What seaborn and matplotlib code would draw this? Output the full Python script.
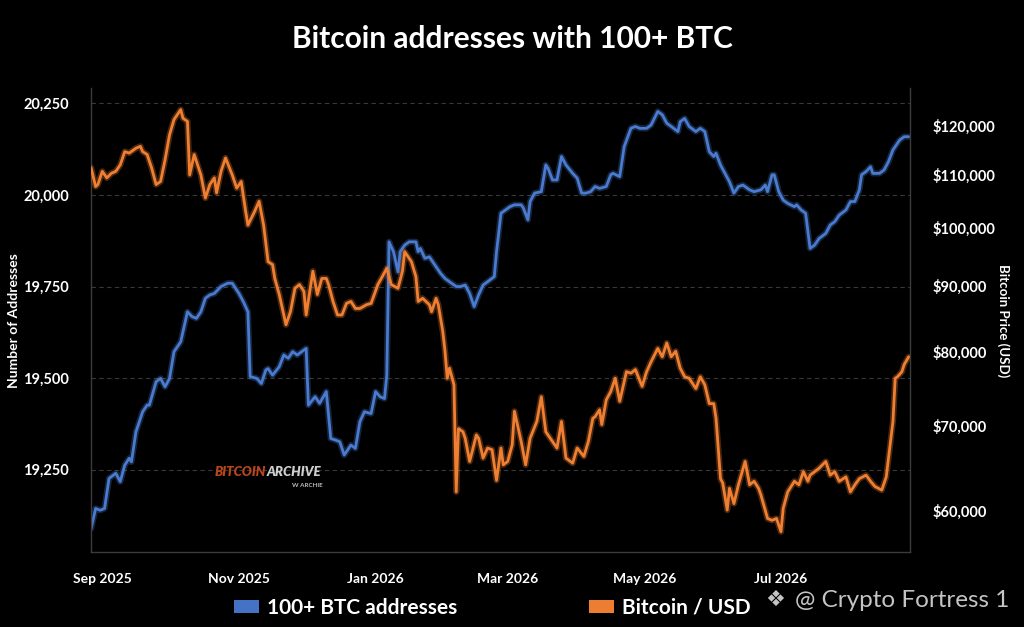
import pandas as pd
import matplotlib.pyplot as plt
import matplotlib.dates as mdates
import matplotlib.patheffects as pe
from matplotlib.patches import Patch
import seaborn as sns

# 100+ BTC addresses (left axis)
addr_dates = [
    "2025-08-27", "2025-08-29", "2025-08-31", "2025-09-02", "2025-09-04", "2025-09-07", "2025-09-09", "2025-09-11", "2025-09-13", "2025-09-14",
    "2025-09-16", "2025-09-19", "2025-09-21", "2025-09-22", "2025-09-25", "2025-09-27", "2025-09-29", "2025-10-01", "2025-10-03", "2025-10-04",
    "2025-10-06", "2025-10-08", "2025-10-09", "2025-10-11", "2025-10-13", "2025-10-15", "2025-10-17", "2025-10-19", "2025-10-21", "2025-10-24",
    "2025-10-27", "2025-10-29", "2025-11-01", "2025-11-03", "2025-11-05", "2025-11-06", "2025-11-09", "2025-11-11", "2025-11-13", "2025-11-14",
    "2025-11-16", "2025-11-19", "2025-11-21", "2025-11-23", "2025-11-25", "2025-11-27", "2025-11-29", "2025-12-01", "2025-12-02", "2025-12-05",
    "2025-12-07", "2025-12-10", "2025-12-12", "2025-12-14", "2025-12-16", "2025-12-18", "2025-12-21", "2025-12-23", "2025-12-25", "2025-12-27",
    "2025-12-30", "2026-01-01", "2026-01-03", "2026-01-05", "2026-01-06", "2026-01-07", "2026-01-09", "2026-01-11", "2026-01-12", "2026-01-14",
    "2026-01-16", "2026-01-19", "2026-01-20", "2026-01-21", "2026-01-23", "2026-01-25", "2026-01-28", "2026-01-30", "2026-02-01", "2026-02-03",
    "2026-02-06", "2026-02-08", "2026-02-10", "2026-02-12", "2026-02-14", "2026-02-16", "2026-02-18", "2026-02-20", "2026-02-23", "2026-02-24",
    "2026-02-26", "2026-02-28", "2026-03-02", "2026-03-04", "2026-03-07", "2026-03-08", "2026-03-10", "2026-03-11", "2026-03-13", "2026-03-16",
    "2026-03-18", "2026-03-19", "2026-03-21", "2026-03-23", "2026-03-25", "2026-03-27", "2026-03-30", "2026-04-01", "2026-04-03", "2026-04-05",
    "2026-04-07", "2026-04-09", "2026-04-11", "2026-04-14", "2026-04-16", "2026-04-17", "2026-04-20", "2026-04-22", "2026-04-25", "2026-04-27",
    "2026-04-29", "2026-05-02", "2026-05-04", "2026-05-07", "2026-05-09", "2026-05-11", "2026-05-13", "2026-05-16", "2026-05-17", "2026-05-19",
    "2026-05-21", "2026-05-24", "2026-05-26", "2026-05-28", "2026-05-30", "2026-06-01", "2026-06-02", "2026-06-04", "2026-06-06", "2026-06-08",
    "2026-06-10", "2026-06-12", "2026-06-14", "2026-06-17", "2026-06-19", "2026-06-22", "2026-06-24", "2026-06-25", "2026-06-27", "2026-06-28",
    "2026-06-30", "2026-07-02", "2026-07-04", "2026-07-07", "2026-07-08", "2026-07-10", "2026-07-12", "2026-07-14", "2026-07-16", "2026-07-18",
    "2026-07-21", "2026-07-23", "2026-07-25", "2026-07-27", "2026-07-30", "2026-08-01", "2026-08-03", "2026-08-05", "2026-08-06", "2026-08-08",
    "2026-08-10", "2026-08-11", "2026-08-14", "2026-08-16", "2026-08-18", "2026-08-20", "2026-08-23", "2026-08-25", "2026-08-27",
]
addr_values = [
    19089, 19144, 19139, 19144, 19226, 19240, 19217, 19262, 19281, 19271,
    19353, 19408, 19426, 19426, 19490, 19499, 19476, 19499, 19572, 19581,
    19599, 19654, 19681, 19668, 19663, 19681, 19718, 19727, 19731, 19750,
    19759, 19759, 19731, 19708, 19681, 19504, 19499, 19485, 19522, 19526,
    19508, 19531, 19563, 19554, 19572, 19563, 19572, 19581, 19426, 19449,
    19431, 19463, 19335, 19331, 19326, 19290, 19317, 19308, 19381, 19408,
    19403, 19463, 19449, 19444, 19508, 19872, 19845, 19790, 19845, 19863,
    19872, 19872, 19845, 19854, 19827, 19831, 19804, 19786, 19772, 19763,
    19750, 19750, 19754, 19731, 19695, 19727, 19754, 19763, 19777, 19845,
    19950, 19959, 19968, 19973, 19973, 19964, 19932, 19982, 20005, 20009,
    20082, 20073, 20041, 20041, 20105, 20082, 20059, 20046, 20005, 20005,
    20009, 20023, 20018, 20023, 20055, 20059, 20050, 20132, 20182, 20187,
    20182, 20182, 20191, 20228, 20219, 20196, 20187, 20173, 20200, 20209,
    20187, 20173, 20182, 20173, 20118, 20105, 20114, 20082, 20059, 20036,
    20005, 20023, 20027, 20014, 20009, 20014, 20027, 20009, 20055, 20055,
    20009, 19986, 19977, 19968, 19973, 19959, 19950, 19854, 19863, 19881,
    19895, 19918, 19927, 19945, 19959, 19982, 19982, 20014, 20055, 20064,
    20077, 20059, 20059, 20068, 20091, 20123, 20150, 20159, 20159,
]

# Bitcoin price in thousand USD (right axis)
price_dates = [
    "2025-08-27", "2025-08-29", "2025-08-30", "2025-09-01", "2025-09-03", "2025-09-05", "2025-09-07", "2025-09-09", "2025-09-11", "2025-09-13",
    "2025-09-16", "2025-09-18", "2025-09-19", "2025-09-21", "2025-09-23", "2025-09-25", "2025-09-27", "2025-09-29", "2025-10-01", "2025-10-03",
    "2025-10-06", "2025-10-07", "2025-10-09", "2025-10-10", "2025-10-12", "2025-10-15", "2025-10-17", "2025-10-19", "2025-10-21", "2025-10-22",
    "2025-10-24", "2025-10-26", "2025-10-29", "2025-10-31", "2025-11-02", "2025-11-04", "2025-11-05", "2025-11-08", "2025-11-10", "2025-11-12",
    "2025-11-14", "2025-11-16", "2025-11-17", "2025-11-19", "2025-11-22", "2025-11-24", "2025-11-26", "2025-11-28", "2025-11-30", "2025-12-01",
    "2025-12-04", "2025-12-06", "2025-12-08", "2025-12-10", "2025-12-11", "2025-12-13", "2025-12-15", "2025-12-17", "2025-12-19", "2025-12-21",
    "2025-12-23", "2025-12-25", "2025-12-28", "2025-12-30", "2026-01-02", "2026-01-04", "2026-01-06", "2026-01-08", "2026-01-11", "2026-01-13",
    "2026-01-14", "2026-01-17", "2026-01-19", "2026-01-20", "2026-01-22", "2026-01-25", "2026-01-26", "2026-01-28", "2026-01-29", "2026-01-31",
    "2026-02-01", "2026-02-02", "2026-02-03", "2026-02-05", "2026-02-06", "2026-02-07", "2026-02-09", "2026-02-10", "2026-02-12", "2026-02-15",
    "2026-02-16", "2026-02-18", "2026-02-20", "2026-02-22", "2026-02-24", "2026-02-26", "2026-02-27", "2026-03-01", "2026-03-03", "2026-03-04",
    "2026-03-07", "2026-03-09", "2026-03-11", "2026-03-14", "2026-03-16", "2026-03-18", "2026-03-21", "2026-03-23", "2026-03-25", "2026-03-27",
    "2026-03-30", "2026-04-01", "2026-04-04", "2026-04-06", "2026-04-08", "2026-04-09", "2026-04-11", "2026-04-12", "2026-04-14", "2026-04-16",
    "2026-04-18", "2026-04-20", "2026-04-23", "2026-04-25", "2026-04-27", "2026-04-30", "2026-05-02", "2026-05-04", "2026-05-07", "2026-05-09",
    "2026-05-11", "2026-05-13", "2026-05-15", "2026-05-17", "2026-05-19", "2026-05-21", "2026-05-24", "2026-05-26", "2026-05-28", "2026-05-30",
    "2026-06-01", "2026-06-02", "2026-06-04", "2026-06-05", "2026-06-07", "2026-06-08", "2026-06-10", "2026-06-12", "2026-06-15", "2026-06-17",
    "2026-06-19", "2026-06-21", "2026-06-22", "2026-06-25", "2026-06-27", "2026-06-29", "2026-07-01", "2026-07-02", "2026-07-04", "2026-07-07",
    "2026-07-09", "2026-07-11", "2026-07-13", "2026-07-14", "2026-07-16", "2026-07-18", "2026-07-21", "2026-07-23", "2026-07-25", "2026-07-27",
    "2026-07-30", "2026-08-01", "2026-08-03", "2026-08-05", "2026-08-08", "2026-08-10", "2026-08-12", "2026-08-15", "2026-08-17", "2026-08-20",
    "2026-08-21", "2026-08-22", "2026-08-24", "2026-08-25", "2026-08-27",
]
price_k = [
    111.3, 107.6, 108.0, 110.6, 109.3, 110.2, 110.6, 111.9, 114.6, 114.3,
    115.3, 115.7, 114.6, 114.0, 111.3, 108.0, 108.6, 112.9, 118.1, 121.4,
    123.6, 121.7, 121.0, 109.9, 114.0, 109.9, 105.4, 108.0, 109.3, 106.4,
    110.6, 113.3, 109.9, 107.3, 108.6, 102.9, 100.4, 102.9, 104.8, 100.4,
    94.0, 93.5, 91.2, 88.6, 83.9, 85.9, 89.6, 90.2, 89.1, 85.4,
    92.4, 88.6, 91.2, 91.2, 90.2, 87.5, 85.4, 85.4, 87.2, 87.5,
    86.4, 86.4, 87.0, 87.2, 90.2, 91.5, 92.9, 90.2, 89.6, 92.4,
    95.7, 94.0, 91.5, 87.5, 88.0, 87.0, 85.9, 88.0, 87.0, 82.9,
    80.0, 76.2, 77.6, 75.3, 62.1, 69.6, 69.2, 68.4, 65.6, 68.8,
    68.4, 66.0, 67.2, 67.0, 63.4, 67.2, 65.2, 65.6, 67.6, 71.8,
    68.0, 65.2, 68.4, 70.5, 73.7, 69.2, 68.0, 67.2, 70.5, 66.0,
    65.4, 67.2, 66.2, 68.0, 70.9, 71.1, 72.0, 70.1, 73.3, 74.4,
    76.2, 73.1, 77.1, 76.9, 77.4, 75.1, 77.1, 78.5, 80.4, 79.2,
    81.2, 79.2, 80.0, 77.6, 76.4, 76.2, 74.8, 76.4, 75.3, 72.8,
    72.8, 70.9, 63.6, 63.1, 60.1, 62.5, 60.8, 62.9, 65.6, 62.9,
    63.3, 62.5, 61.8, 59.2, 59.0, 59.2, 57.8, 60.3, 62.1, 63.3,
    62.9, 64.4, 63.3, 64.0, 64.4, 64.8, 65.6, 64.0, 64.4, 63.3,
    63.8, 62.1, 62.9, 63.6, 64.0, 63.3, 62.7, 62.3, 63.8, 70.5,
    76.2, 76.4, 77.1, 78.1, 79.2,
]

addr_ticks = [19250, 19500, 19750, 20000, 20250]
price_ticks = [60000, 70000, 80000, 90000, 100000, 110000, 120000]

BLUE = "#4a7bd0"
ORANGE = "#f07f32"
SPINE = "#3c3c3c"

sns.set_theme(style="dark", rc={
    "axes.facecolor": "black",
    "figure.facecolor": "black",
    "savefig.facecolor": "black",
    "text.color": "white",
    "axes.labelcolor": "white",
    "xtick.color": "white",
    "ytick.color": "white",
})
plt.rcParams["font.family"] = ["Lato", "DejaVu Sans"]

addr = pd.DataFrame({"date": pd.to_datetime(addr_dates), "addresses": addr_values})
price = pd.DataFrame({"date": pd.to_datetime(price_dates), "price": [p * 1000 for p in price_k]})

fig = plt.figure(figsize=(10.24, 6.27), dpi=100)
ax = fig.add_axes([0.089, 0.1196, 0.7998, 0.74])
ax2 = ax.twinx()

glow_blue = [pe.Stroke(linewidth=4.5, foreground=BLUE, alpha=0.3), pe.Normal()]
glow_orange = [pe.Stroke(linewidth=4.5, foreground=ORANGE, alpha=0.3), pe.Normal()]

sns.lineplot(data=addr, x="date", y="addresses", ax=ax, color=BLUE, lw=2.0,
             path_effects=glow_blue, legend=False)
sns.lineplot(data=price, x="date", y="price", ax=ax2, color=ORANGE, lw=2.0,
             path_effects=glow_orange, legend=False)

# axes ranges
ax.set_xlim(pd.Timestamp("2025-08-27"), pd.Timestamp("2026-08-27 16:00"))
ax.set_ylim(19025, 20292)
ax2.set_yscale("log")
ax2.set_ylim(55730, 128500)

# grid + spines
ax.grid(False)
ax2.grid(False)
ax.yaxis.grid(True, color="#383838", linestyle=(0, (4, 3)), linewidth=0.8)
for side in ["left", "right", "bottom"]:
    ax.spines[side].set_visible(True)
    ax.spines[side].set_color(SPINE)
    ax.spines[side].set_linewidth(1.0)
ax.spines["top"].set_visible(False)
for s in ax2.spines.values():
    s.set_visible(False)

# x axis
ax.xaxis.set_major_locator(mdates.MonthLocator(bymonth=[1, 3, 5, 7, 9, 11]))
ax.xaxis.set_major_formatter(mdates.DateFormatter("%b %Y"))
ax.tick_params(axis="x", length=5, width=1, color=SPINE, pad=10, labelsize=10)
for lbl in ax.get_xticklabels():
    lbl.set_fontweight("bold")
ax.set_xlabel("")

# left y axis
ax.set_yticks(addr_ticks, labels=[f"{t:,}" for t in addr_ticks], fontweight="bold", fontsize=10.5)
ax.tick_params(axis="y", length=0, pad=16)
ax.set_ylabel("")

# right y axis
ax2.yaxis.set_minor_locator(plt.NullLocator())
ax2.set_yticks(price_ticks, labels=[f"${t:,}" for t in price_ticks], fontweight="bold", fontsize=10.5)
ax2.yaxis.set_minor_formatter(plt.NullFormatter())
ax2.tick_params(axis="y", which="both", length=0, pad=16)
ax2.set_ylabel("")

fig.text(0.0137, 0.488, "Number of Addresses", rotation=90, ha="center", va="center",
         fontsize=10, fontweight="bold", color="white")
fig.text(0.9795, 0.488, "Bitcoin Price (USD)", rotation=-90, ha="center", va="center",
         fontsize=9.5, fontweight="bold", color="white")

fig.text(0.5, 0.938, "Bitcoin addresses with 100+ BTC", ha="center", va="center",
         fontsize=21.5, fontweight="bold", color="white")

# source watermark inside the plot
fig.text(0.21, 0.247, "BITCOIN", ha="left", va="center", fontsize=9.5, fontweight="heavy",
         style="italic", color="#b8461c")
fig.text(0.2605, 0.247, "ARCHIVE", ha="left", va="center", fontsize=9.5, fontweight="heavy",
         style="italic", color="#cfcfcf")
fig.text(0.2855, 0.226, "W ARCHIE", ha="left", va="center", fontsize=4.5, fontweight="bold",
         color="#bdbdbd")

# legend
handles = [Patch(facecolor="#4472c4", edgecolor="none", label="100+ BTC addresses"),
           Patch(facecolor="#ed7d31", edgecolor="none", label="Bitcoin / USD")]
fig.legend(handles=handles, loc="center", bbox_to_anchor=(0.481, 0.031), ncol=2,
           frameon=False, prop={"weight": "bold", "size": 15}, labelcolor="white",
           handlelength=1.2, handleheight=0.6, handletextpad=0.4, columnspacing=6.3)

# author tag
fig.text(0.747, 0.043, "❖", ha="left", va="center", fontsize=16, color="#c4c4c4")
fig.text(0.776, 0.043, "@ Crypto Fortress 1", ha="left", va="center", fontsize=17.5, color="#c4c4c4")

plt.savefig("out.png", dpi=100, facecolor="black")
